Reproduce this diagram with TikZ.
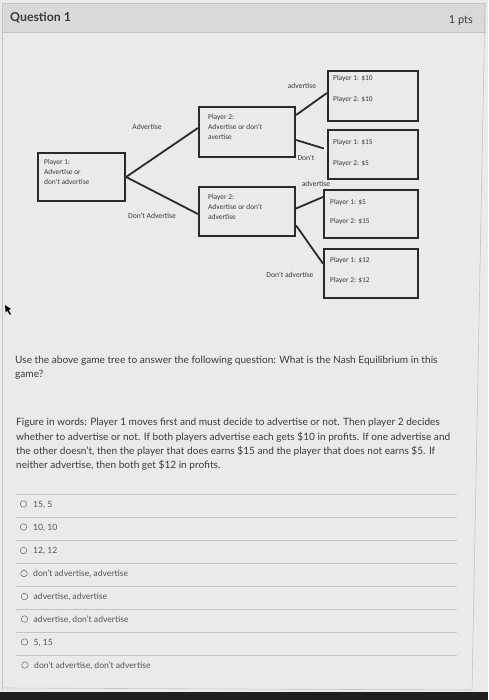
\documentclass[tikz,border=0pt]{standalone}
\usepackage{fontspec}
\setmainfont{Lato}
\newfontfamily\diag{Carlito}
\definecolor{pagebg}{HTML}{EAEAE8}
\definecolor{headbg}{HTML}{D9D9D7}
\definecolor{frame}{HTML}{C4C4C2}
\definecolor{ink}{HTML}{2A2A2A}
\definecolor{txt}{HTML}{3A3A3A}
\definecolor{opt}{HTML}{555555}
\tikzset{
  box/.style={draw=ink, line width=2.2pt, inner sep=0pt},
  conn/.style={draw=ink, line width=1.8pt},
  dtxt/.style={font=\diag\fontsize{7.4}{10}\selectfont, text=txt, anchor=base west, inner sep=0pt, align=left},
  mtxt/.style={font=\diag\fontsize{7.4}{10}\selectfont, text=txt, anchor=north west, inner sep=0pt, align=left},
  lbl/.style={font=\diag\fontsize{7.6}{8}\selectfont, text=txt, anchor=base, inner sep=0pt},
  qtxt/.style={font=\fontsize{10.1}{14.3}\selectfont, text=txt, anchor=base west, inner sep=0pt},
  otxt/.style={font=\fontsize{8.6}{10}\selectfont, text=opt, anchor=base west, inner sep=0pt},
  radio/.style={draw=opt!80, line width=0.6pt, circle, minimum size=6.5pt, inner sep=0pt},
  sep/.style={draw=frame, line width=0.6pt}
}
\begin{document}
\begin{tikzpicture}[x=1pt,y=-1pt]
\useasboundingbox (0,0) rectangle (488,700);
\fill[pagebg] (0,0) rectangle (488,700);
% header
\fill[headbg] (2,3) rectangle (486,32);
\draw[frame, line width=0.6pt] (2,3) -- (486,3);
\draw[frame, line width=0.6pt] (2,32) -- (486,32);
\draw[frame, line width=0.6pt] (2.5,3) -- (2.5,690);
\draw[frame, line width=0.6pt] (485,3) -- (472,690);
\node[font=\bfseries\fontsize{12.3}{14}\selectfont, text=txt, anchor=base west, inner sep=0pt] (q) at (10,22) {Question 1};
\node[font=\fontsize{11}{13}\selectfont, text=txt, anchor=base east, inner sep=0pt] (pts) at (473,24) {1 pts};

% game tree boxes
\node[box, minimum width=87pt, minimum height=48pt] (p1) at (81.5,177) {};
\node[box, minimum width=96pt, minimum height=50pt] (p2a) at (247,132) {};
\node[box, minimum width=96pt, minimum height=49pt] (p2b) at (247,211.5) {};
\node[box, minimum width=90pt, minimum height=50pt] (o1) at (373,96) {};
\node[box, minimum width=90pt, minimum height=49pt] (o2) at (373,154.5) {};
\node[box, minimum width=94pt, minimum height=48pt] (o3) at (371,214) {};
\node[box, minimum width=94pt, minimum height=49pt] (o4) at (371,273.5) {};

\node[mtxt] (p1t) at (44,159) {Player 1:\\Advertise or\\don't advertise};
\node[mtxt] (p2at) at (208,114) {Player 2:\\Advertise or don't\\avertise};
\node[mtxt] (p2bt) at (208,194) {Player 2:\\Advertise or don't\\advertise};
\node[dtxt] (o1a) at (333,81) {Player 1: \$10};
\node[dtxt] (o1b) at (333,102) {Player 2: \$10};
\node[dtxt] (o2a) at (333,145) {Player 1: \$15};
\node[dtxt] (o2b) at (333,166) {Player 2: \$5};
\node[dtxt] (o3a) at (330,205) {Player 1: \$5};
\node[dtxt] (o3b) at (330,224) {Player 2: \$15};
\node[dtxt] (o4a) at (330,262) {Player 1: \$12};
\node[dtxt] (o4b) at (330,282) {Player 2: \$12};

% connectors
\draw[conn] (p1.east) -- ([yshift=4pt]p2a.west);
\draw[conn] (p1.east) -- ([yshift=-2.5pt]p2b.west);
\draw[conn] ([yshift=17pt]p2a.east) -- ([yshift=3pt]o1.west);
\draw[conn] ([yshift=-8pt]p2a.east) -- ([yshift=6pt,xshift=-3pt]o2.west);
\draw[conn] ([yshift=3pt]p2b.east) -- ([yshift=17pt]o3.west);
\draw[conn] ([yshift=-14pt]p2b.east) -- ([yshift=10pt]o4.west);

% branch labels
\node[lbl] (la) at (147,130) {Advertise};
\node[lbl] (ld) at (152,219) {Don't Advertise};
\node[lbl] (l1) at (302,89) {advertise};
\node[lbl] (l2) at (306,161) {Don't};
\node[lbl] (l3) at (316,187) {advertise};
\node[lbl] (l4) at (290,277) {Don't advertise};

% cursor
\fill[black] (5,305) -- (11,309) -- (8.5,310) -- (11,314) -- (9.8,314.8) -- (7.4,310.8) -- (5.6,312.5) -- cycle;

% question text
\node[qtxt] (q1) at (15,363) {Use the above game tree to answer the following question: What is the Nash Equilibrium in this};
\node[qtxt] (q2) at (15,377) {game?};
\node[qtxt] (f1) at (16,425) {Figure in words: Player 1 moves first and must decide to advertise or not. Then player 2 decides};
\node[qtxt] (f2) at (16,440) {whether to advertise or not. If both players advertise each gets \$10 in profits. If one advertise and};
\node[qtxt] (f3) at (16,454) {the other doesn't, then the player that does earns \$15 and the player that does not earns \$5. If};
\node[qtxt] (f4) at (16,468) {neither advertise, then both get \$12 in profits.};

% answer options
\foreach \yy in {494,517,540,563,586,609,632,655} {\draw[sep] (16,\yy) -- (457,\yy);}
\node[radio] (r1) at (23.5,504) {}; \node[otxt] (a1) at (33,507) {15, 5};
\node[radio] (r2) at (23.5,527) {}; \node[otxt] (a2) at (33,530) {10, 10};
\node[radio] (r3) at (23.5,550.5) {}; \node[otxt] (a3) at (33,553.5) {12, 12};
\node[radio] (r4) at (24,573.5) {}; \node[otxt] (a4) at (33,576.5) {don't advertise, advertise};
\node[radio] (r5) at (24.5,596.5) {}; \node[otxt] (a5) at (33.5,599.5) {advertise, advertise};
\node[radio] (r6) at (24.5,619) {}; \node[otxt] (a6) at (33.5,622) {advertise, don't advertise};
\node[radio] (r7) at (24.5,642) {}; \node[otxt] (a7) at (33.5,645) {5, 15};
\node[radio] (r8) at (25,665) {}; \node[otxt] (a8) at (34,668) {don't advertise, don't advertise};

% bottom frame and dark band
\draw[frame, line width=0.6pt] (2.5,688) -- (472,690);
\fill[black!88] (0,692) rectangle (488,700);
\end{tikzpicture}
\end{document}
